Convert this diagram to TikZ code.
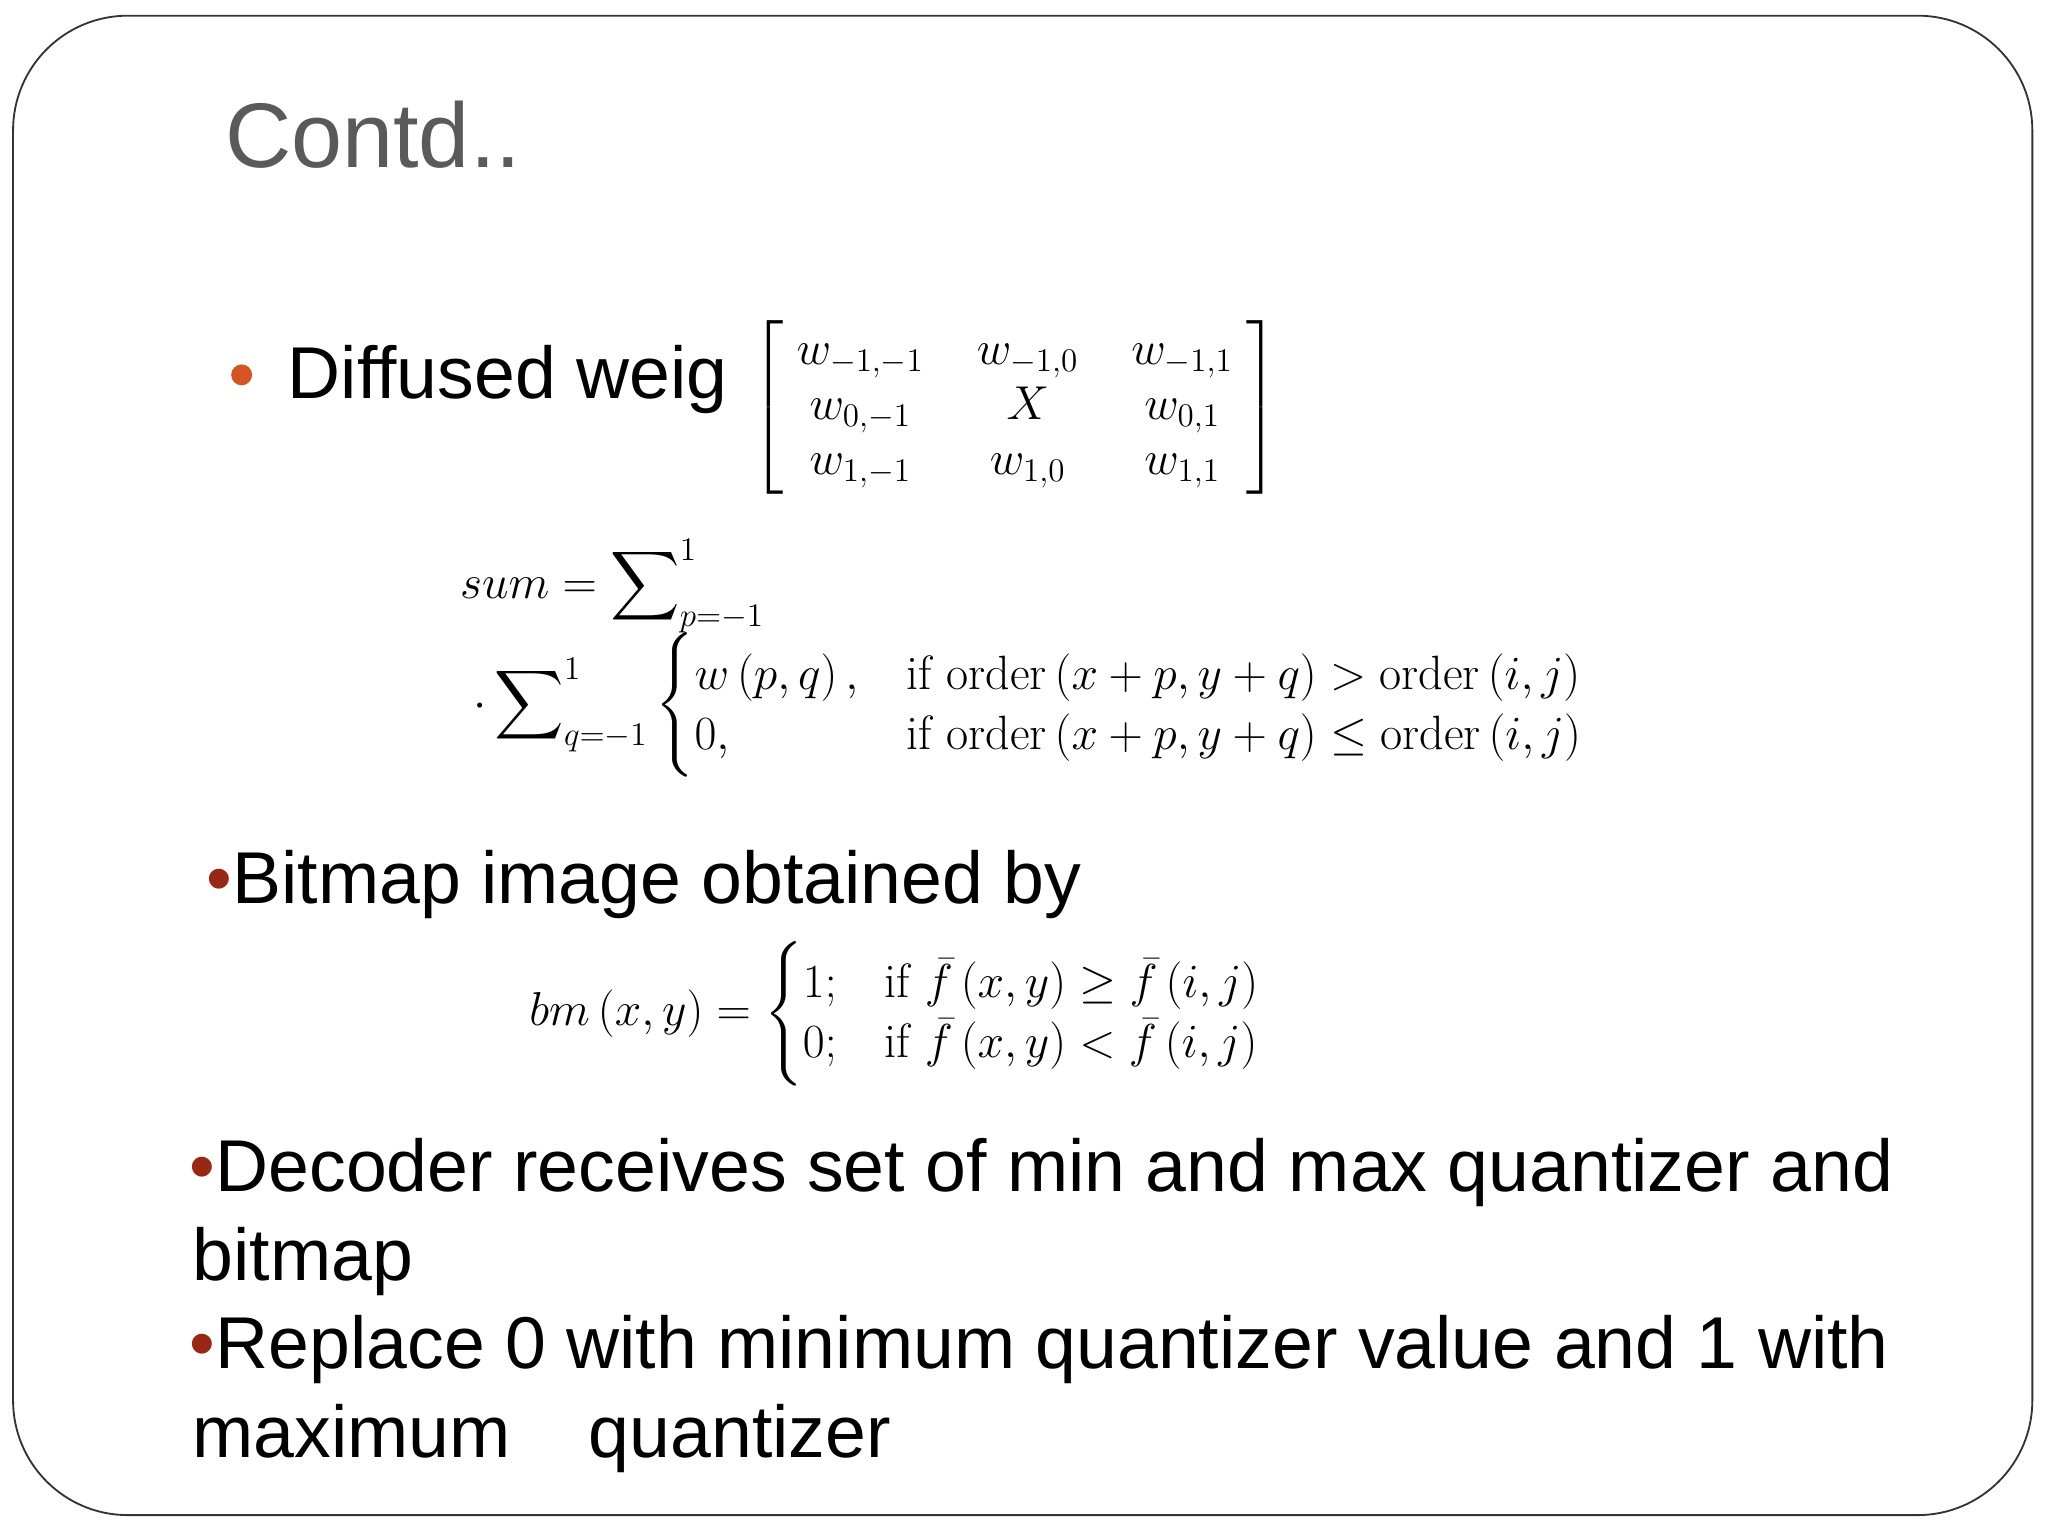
\documentclass[tikz,border=0pt]{standalone}
\usepackage{amsmath,amssymb}
\usepackage{fontspec}
\setmainfont{Liberation Sans}
\newfontfamily\lmr{Latin Modern Roman}
\newcommand{\tx}[1]{\text{\lmr #1}}
\definecolor{bul}{RGB}{214,84,34}
\definecolor{ttl}{RGB}{90,90,90}
\definecolor{dbul}{RGB}{150,40,20}
\begin{document}
\begin{tikzpicture}[x=0.02cm,y=-0.02cm,
  body/.style={anchor=base west,inner sep=0,font=\fontsize{32}{40}\selectfont},
  eq/.style={anchor=center,inner sep=0,font=\fontsize{21}{26}\selectfont}]
\useasboundingbox (0,0) rectangle (1568,1176);
\draw[rounded corners=50pt,line width=0.8pt,draw=black!80] (10,12) rectangle (1556,1160);
\node[anchor=base west,inner sep=0,text=ttl,font=\fontsize{40}{46}\selectfont] (title) at (172,128) {Contd..};
\fill[bul] (185,287) circle (8) coordinate (b1);
\node[body] (t1) at (220,305) {Diffused weig};
\node[eq] (mat) at (777,312) {$\left[\begin{array}{@{\;}c@{\hspace{1.1em}}c@{\hspace{1.1em}}c@{\;}} w_{-1,-1} & w_{-1,0} & w_{-1,1}\\[-2pt] w_{0,-1} & X & w_{0,1}\\[-2pt] w_{1,-1} & w_{1,0} & w_{1,1}\end{array}\right]$};
\node[eq,anchor=base west] (sum1) at (352,458) {$sum = \displaystyle\sum\nolimits_{p=-1}^{1}$};
\node[eq,anchor=west] (sum2) at (362,540) {$\cdot\displaystyle\sum\nolimits_{q=-1}^{1}\begin{cases} w\left(p,q\right), & \tx{if order}\left(x+p,y+q\right) > \tx{order}\left(i,j\right)\\[-5pt] 0, & \tx{if order}\left(x+p,y+q\right) \le \tx{order}\left(i,j\right)\end{cases}$};
\node[body] (t2) at (158,692) {\textcolor{dbul}{•}Bitmap image obtained by};
\node[eq,anchor=west] (bm) at (405,776) {$bm\left(x,y\right) = \begin{cases} 1; & \tx{if } \bar f\left(x,y\right) \ge \bar f\left(i,j\right)\\[-5pt] 0; & \tx{if } \bar f\left(x,y\right) < \bar f\left(i,j\right)\end{cases}$};
\node[body] (t3) at (145,912) {\textcolor{dbul}{•}Decoder receives set of min and max quantizer and};
\node[body] (t4) at (147,980) {bitmap};
\node[body] (t5) at (145,1048) {\textcolor{dbul}{•}Replace 0 with minimum quantizer value and 1 with};
\node[body] (t6) at (147,1116) {maximum\hspace{1.2cm}quantizer};
\end{tikzpicture}
\end{document}
